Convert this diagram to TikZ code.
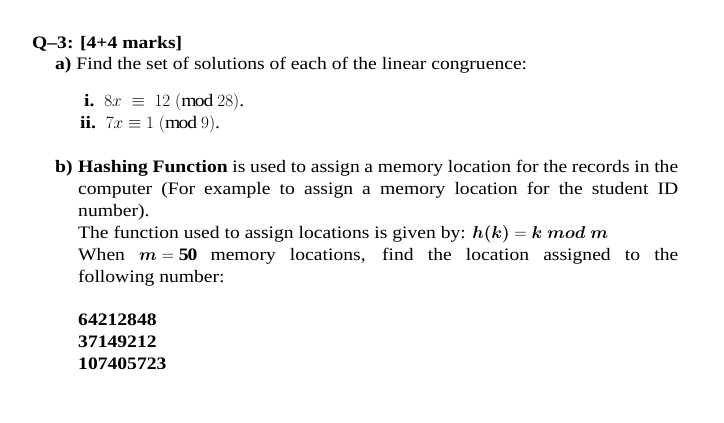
\documentclass[tikz,border=0pt]{standalone}
\usepackage{amsmath,bm}
\usepackage{fontspec}
\setmainfont{Liberation Serif}[FakeStretch=1.12]
\begin{document}
\begin{tikzpicture}[x=1bp,y=-1bp,
  t/.style={anchor=base west,inner sep=0pt,font=\fontsize{17.5bp}{20bp}\selectfont}]
\useasboundingbox (0,0) rectangle (724,422);
\node[t] (q) at (32,48) {\textbf{Q--3: [4+4 marks]}};
\node[t] (a) at (55,69) {\textbf{a)} Find the set of solutions of each of the linear congruence:};
\node[t] (a1) at (84,106) {\textbf{i.}\ \ \mbox{$8x\ \equiv\ 12\ (\mathrm{mod}\ 28)$}.};
\node[t] (a2) at (80,128) {\textbf{ii.}\ \ \mbox{$7x\equiv 1\ (\mathrm{mod}\ 9)$}.};
\node[t] (b) at (55,172) {\textbf{b)}};
\node[t] (b1) at (78,172) {\makebox[600bp][s]{\textbf{Hashing Function} is used to assign a memory location for the records in the}};
\node[t] (b2) at (78,194) {\makebox[600bp][s]{computer (For example to assign a memory location for the student ID}};
\node[t] (b3) at (78,216) {number).};
\node[t] (b4) at (78,238) {The function used to assign locations is given by: \mbox{$\bm{h(k)}=\bm{k\ mod\ m}$}};
\node[t] (b5) at (78,260) {\makebox[600bp][s]{When \mbox{$\bm{m}=\mathbf{50}$} memory locations, find the location assigned to the}};
\node[t] (b6) at (78,282) {following number:};
\node[t] (n1) at (78,325) {\textbf{64212848}};
\node[t] (n2) at (78,347) {\textbf{37149212}};
\node[t] (n3) at (78,369) {\textbf{107405723}};
\end{tikzpicture}
\end{document}
